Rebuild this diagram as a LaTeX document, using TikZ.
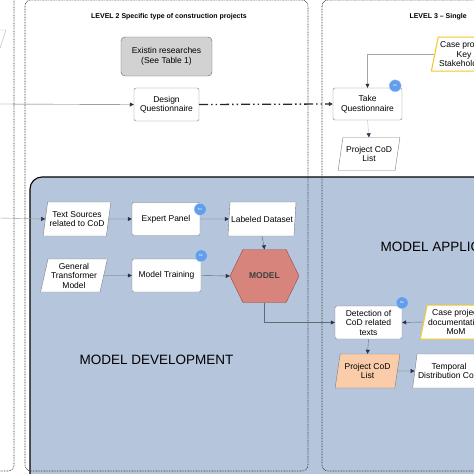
\documentclass[tikz,border=0pt]{standalone}
\usepackage{fontspec}
\setmainfont{Liberation Sans}
\usetikzlibrary{shapes.geometric,shapes.symbols,arrows.meta,positioning}

\definecolor{panelblue}{RGB}{181,198,220}
\definecolor{modelred}{RGB}{214,132,124}
\definecolor{modeledge}{RGB}{150,72,72}
\definecolor{boxedge}{RGB}{120,124,132}
\definecolor{linegray}{RGB}{100,106,116}
\definecolor{tipdark}{RGB}{40,50,72}
\definecolor{caseyellow}{RGB}{242,200,40}
\definecolor{listorange}{RGB}{250,204,170}
\definecolor{badgeblue}{RGB}{98,158,236}

\tikzset{
  proc/.style={draw=boxedge, fill=white, rounded corners=2pt, align=center,
    font=\fontsize{8.5}{9.5}\selectfont, minimum width=68pt, minimum height=33pt, inner sep=1pt},
  data/.style={trapezium, trapezium left angle=76, trapezium right angle=104,
    trapezium stretches=true, draw=boxedge, fill=white, align=center,
    font=\fontsize{8.5}{9.5}\selectfont, minimum width=68pt, minimum height=34pt, inner sep=1pt},
  flow/.style={draw=linegray, -{Triangle[length=4pt,width=4pt,color=tipdark]}},
  badge/.style={circle, fill=badgeblue, draw=badgeblue!50, minimum size=12pt, inner sep=0pt,
    text=white, font=\fontsize{3}{3}\selectfont},
  level/.style={draw=gray!45!black, line width=0.6pt, dash pattern=on 0.8pt off 0.8pt, rounded corners=6pt},
  bigtitle/.style={font=\fontsize{13.5}{15}\selectfont, anchor=west}
}

\begin{document}
\begin{tikzpicture}[x=1pt,y=-1pt]
\useasboundingbox (0,0) rectangle (474,474);
\clip (0,0) rectangle (474,474);

% model development / application area
\draw[fill=panelblue, draw=black, line width=1.1pt, rounded corners=12pt] (30,177) rectangle (540,540);

% level lanes
\draw[level] (-40,-20) rectangle (14,471);
\draw[level] (25,0) rectangle (308,471);
\draw[level] (322,0) rectangle (560,471);

\node[font=\bfseries\fontsize{7}{8}\selectfont] (lvltwo) at (169,17) {LEVEL 2 Specific type of construction projects};
\node[font=\bfseries\fontsize{7}{8}\selectfont, anchor=west] (lvlthree) at (406,17) {LEVEL 3 -- Single};

% level 2 and 3 boxes
\node[data, draw=gray!60] (prev) at (-28,47) {};
\node[proc, fill=gray!35, draw=gray!75!black, rounded corners=4pt, minimum width=91pt, minimum height=39pt] (exist) at (166.5,56.5) {Existin researches\\(See Table 1)};
\node[proc, minimum width=65pt] (design) at (166.5,104.5) {Design\\Questionnaire};
\node[proc, minimum width=69pt, minimum height=32pt] (take) at (367.5,104) {Take\\Questionnaire};
\node[data, minimum width=62pt, minimum height=33pt] (plistone) at (369,154) {Project CoD\\List};
\node[data, draw=caseyellow, line width=1pt, minimum width=64pt] (caseone) at (464,54) {Case project\\Key\\Stakeholders};

\coordinate (leftin) at (0,104);
\coordinate (leftdev) at (0,218);

% model development
\node[data] (textsrc) at (77,219) {Text Sources\\related to CoD};
\node[proc] (expert) at (166,219) {Expert Panel};
\node[data] (labeled) at (262,219) {Labeled Dataset};
\node[data, minimum width=67pt, minimum height=33pt] (general) at (74,275.5) {General\\Transformer\\Model};
\node[proc, minimum width=69pt] (training) at (166.5,275.5) {Model Training};
\node[signal, signal to=east and west, signal pointer angle=128, fill=modelred, draw=modeledge,
  minimum width=69pt, minimum height=53pt, inner sep=0pt, font=\bfseries\fontsize{8.5}{9.5}\selectfont, text=black!75] (model) at (264.5,276) {MODEL};

% model application
\node[proc, minimum width=67pt] (detect) at (368.5,322.5) {Detection of\\CoD related\\texts};
\node[data, draw=caseyellow, line width=1pt, minimum width=60pt] (casetwo) at (456,322) {Case project\\documentation\\MoM};
\node[data, fill=listorange, minimum width=65pt] (plisttwo) at (367.5,371) {Project CoD\\List};
\node[data, minimum width=68pt] (temporal) at (449,371) {Temporal\\Distribution CoD};

\node[bigtitle] (apptitle) at (377,247) {MODEL APPLICATION};
\node[bigtitle] (devtitle) at (76,360) {MODEL DEVELOPMENT};

% badges
\node[badge] (bexpert) at ([xshift=0pt,yshift=-7pt]expert.north east) {EX};
\node[badge] (btraining) at ([xshift=0pt,yshift=3pt]training.north east) {ML};
\node[badge] (btake) at ([xshift=-7pt,yshift=2pt]take.north east) {KS};
\node[badge] (bdetect) at ([xshift=0pt,yshift=3pt]detect.north east) {ML};

% connectors
\draw[flow] (leftin) -- (design.west);
\draw[flow, draw=black!85, line width=1.3pt, dash pattern=on 9pt off 3pt on 1.5pt off 3pt on 1.5pt off 3pt] (design.east) -- (take.west);
\draw[flow, draw=linegray!60] (caseone.west) -| (take.north);
\draw[flow, draw=linegray!40] (take.south) -- (plistone.north);
\draw[flow, draw=linegray!70] (leftdev) -- (textsrc.west);
\draw[flow] (textsrc.east) -- (expert.west);
\draw[flow] (expert.east) -- (labeled.west);
\draw[flow] (labeled.south) -- (model.north);
\draw[flow] (general.east) -- (training.west);
\draw[flow] (training.east) -- (model.west);
\draw[flow] (model.south) |- (detect.west);
\draw[flow] (casetwo.west) -- (detect.east);
\draw[flow] (detect.south) -- (plisttwo.north);
\draw[flow] (plisttwo.east) -- (temporal.west);
\end{tikzpicture}
\end{document}
